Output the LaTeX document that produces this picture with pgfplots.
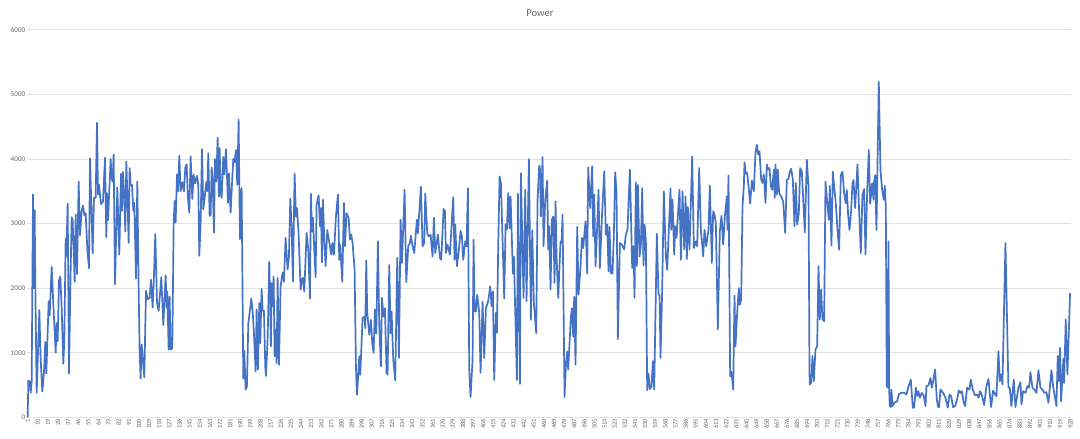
\documentclass[border=0pt]{standalone}
\usepackage{pgfplots}
\usepackage{pgfplotstable}
\usepackage{fontspec}
\setmainfont{Carlito}
\pgfplotsset{compat=1.18}
\definecolor{linecol}{HTML}{4472C4}
\definecolor{gridcol}{HTML}{E2E2E2}
\definecolor{txtcol}{HTML}{6A6A6A}
\pgfplotstableread{
p v
83 0
85 570
90 550
92 380
95 560
99 3450
101 2000
104 3210
106 2000
110 380
118 1660
122 900
127 400
132 700
136 1170
139 680
146 1800
149 1580
155 2330
160 1750
167 1000
170 1460
173 1180
177 2120
181 2180
185 1700
190 830
193 1200
197 2770
199 2500
203 3310
207 680
211 2000
215 3100
218 3050
224 2100
227 3140
231 2220
236 3650
240 2820
245 3200
249 3280
253 3130
257 3160
262 2600
267 2310
270 4010
274 3300
278 2540
282 3400
287 3400
291 4560
294 3450
297 3600
303 3300
309 3340
315 4020
319 2790
321 3470
324 3050
332 4000
335 3700
338 3650
341 4070
345 2060
352 3560
358 2520
363 3770
366 3200
369 3800
373 3400
376 2880
379 3960
383 3300
386 2700
389 3860
392 3600
396 3600
400 3200
403 3320
405 2850
408 2150
412 3650
416 2000
419 1000
422 600
425 1130
430 800
433 620
438 1960
443 1830
449 1850
453 2130
458 1700
462 2200
466 2840
471 1780
476 1650
484 2170
490 1430
497 2200
500 1700
502 1950
506 1050
509 1870
512 1050
517 1070
521 3000
524 3350
527 3020
531 3760
534 3500
538 4050
542 3500
547 3640
552 3500
556 3870
560 3920
564 3380
568 3170
572 4040
577 3380
581 3760
585 3620
591 3740
595 3600
598 2500
602 3000
606 4150
610 3220
614 3400
619 3640
622 3500
625 4090
629 3120
632 3130
635 3870
638 3700
642 2860
645 4000
649 3650
653 4330
657 3420
659 4170
662 3500
665 3400
670 4030
673 3760
678 4150
681 3750
684 3320
687 3780
692 3170
696 3600
700 4000
704 3950
708 4140
712 3600
716 4610
720 2760
725 3550
730 600
733 1030
737 430
741 480
745 1450
750 1660
754 1840
758 1650
762 1300
767 710
770 1670
774 740
778 1770
781 1150
785 1990
788 1650
792 1650
796 780
798 640
803 1200
808 2410
}\blockA
\pgfplotstableread{
p v
-2 2410
3 1100
5 2080
8 1720
11 2180
14 945
17 1360
20 840
23 2160
27 815
32 2030
38 2245
42 2100
47 2780
53 2290
57 2490
61 3390
65 2960
69 2105
74 3775
78 3110
81 3240
86 2850
92 1980
96 2130
99 2160
103 1950
110 2855
115 2600
120 1840
123 3460
126 2880
129 3090
133 2600
137 2170
140 3290
146 3440
150 2960
153 3240
156 2400
159 3370
163 2750
167 2340
172 2900
180 2650
184 2520
187 2700
192 2520
198 3110
204 3450
208 2440
211 2670
217 2100
222 3320
225 2650
230 3160
236 3090
240 2750
244 2830
248 2700
254 2290
258 790
261 350
264 580
268 945
271 660
278 1540
284 1560
286 1380
289 2430
292 1620
298 1280
303 1510
307 1150
311 1000
315 1670
319 1300
324 2725
328 1410
333 790
336 1850
341 1560
345 1690
350 690
353 660
358 2360
362 1300
365 1640
370 890
376 570
382 2470
387 920
392 3060
396 2390
404 3525
409 2090
415 2650
420 2700
423 2810
428 2650
433 2545
441 3060
444 2850
453 3570
458 2650
463 2700
466 3465
472 2850
476 2800
482 2830
488 2490
492 3090
496 2545
504 2830
510 2470
514 2440
521 3225
525 3190
528 2545
533 2675
540 2520
550 3410
554 2440
556 2985
561 2340
566 2545
572 2890
576 2800
580 2440
586 2725
590 2650
594 3550
598 740
602 315
608 890
611 2750
614 1640
618 1640
622 1900
628 1620
632 690
638 1790
643 920
648 1690
655 1800
661 2030
665 1720
669 1950
673 580
678 1620
681 1310
685 2650
689 3730
693 3630
698 2750
703 1840
707 2985
711 2910
715 3475
719 2930
722 3420
729 2225
732 2490
741 580
744 3465
750 520
753 3780
761 1850
766 3525
770 1800
777 4000
783 1510
787 2895
792 1770
799 1305
803 3370
808 3900
}\blockB
\pgfplotstableread{
p v
-2 3900
0 3860
3 3110
8 4030
11 2650
16 3370
22 3665
25 2600
28 2960
32 1980
36 3060
40 3110
44 2080
47 3345
50 2490
55 1850
62 2725
65 2700
68 3140
74 315
78 790
82 1020
85 740
93 1560
96 1690
100 1250
103 1870
107 815
112 2950
116 1900
122 2340
126 2780
130 2620
137 3035
142 2225
145 3870
151 3240
157 3890
160 2800
163 3450
167 2340
172 2960
176 3525
180 2310
186 3090
193 3810
198 2830
202 2985
206 2260
209 2950
213 2235
218 2225
222 2830
226 3795
230 3475
234 1210
240 2700
246 2675
253 2600
258 2830
263 2905
270 3835
277 2310
281 2650
284 1850
288 3640
291 2340
294 3600
299 2490
303 2650
307 3550
311 2350
314 2985
318 2750
322 420
326 675
330 440
335 480
339 870
343 430
351 2845
356 1900
359 1900
362 920
367 1980
372 3500
378 2490
382 2285
392 3545
394 2905
398 3370
403 2520
406 2960
410 2780
419 3525
423 2440
428 3500
433 2600
437 3420
441 2450
444 3260
449 2600
457 4040
462 2620
468 2725
472 2650
478 3860
483 2905
490 2490
494 2905
499 2650
506 2905
510 3590
516 2390
520 3190
524 3140
528 3010
534 1360
540 2880
545 3120
550 2675
555 3110
561 3420
563 2905
566 3745
571 635
574 710
577 600
580 430
584 1885
587 1100
592 1615
597 2000
600 1745
604 1820
608 3270
612 3580
614 3950
618 3775
622 3785
627 3525
631 3310
636 3665
642 3500
647 4095
651 4220
655 4070
659 4120
664 3680
668 3630
672 3760
677 3320
681 3915
685 3835
689 3860
693 3580
697 3525
702 3835
705 3400
707 3915
711 3450
714 3835
718 3475
724 3420
730 3345
736 2855
741 3680
746 3690
749 3785
754 3850
759 3680
764 2960
768 3630
772 2985
777 3165
781 3860
786 3810
795 2865
801 3990
806 3580
809 690
}\blockC
\pgfplotstableread{
p v
-1 690
0 510
4 535
8 950
12 560
17 1050
22 1100
26 2340
30 1515
34 1980
38 1515
43 1490
47 3650
52 3340
57 3060
60 3585
65 2660
69 3805
73 3575
78 3315
83 2900
88 2595
93 3750
98 3805
103 3470
108 3315
111 3520
115 3135
119 2900
124 3210
128 3625
131 3675
136 3240
143 3920
147 3315
153 2540
158 3445
163 3535
167 2520
172 3470
177 4140
181 3305
187 3625
191 3370
193 3650
196 3750
200 2900
207 5195
212 3830
217 3520
222 3370
225 3585
228 3265
231 485
234 460
236 2725
238 430
240 175
243 160
245 430
248 175
253 225
262 250
268 365
275 380
283 380
290 355
295 460
303 585
309 150
313 150
318 460
322 330
326 405
330 305
336 380
342 330
347 175
350 485
356 495
362 610
366 460
370 560
376 740
381 280
385 160
388 160
392 430
400 380
407 305
414 150
419 355
424 330
430 160
436 175
442 280
447 415
452 380
456 405
462 225
466 175
472 460
479 430
483 585
489 430
495 345
501 355
506 305
511 405
517 330
523 190
530 485
536 595
544 160
550 415
556 355
560 330
566 1025
570 560
574 665
578 510
587 2700
596 460
600 460
605 175
612 585
617 160
626 460
632 545
635 200
640 405
647 380
653 485
658 460
662 700
668 460
674 430
680 380
686 730
692 460
698 430
704 380
710 390
716 225
725 730
730 485
740 175
744 950
747 560
751 1075
754 250
761 910
763 535
768 1515
773 665
781 1925
}\blockD
\begin{document}
\begin{tikzpicture}[x=1pt,y=1pt]
\path[use as bounding box] (0,0) rectangle (1080,439);
\node[text=txtcol,font=\fontsize{10.5}{12}\selectfont,anchor=center] at (540,426) {Power};
\begin{axis}[
  at={(27pt,21.6pt)},anchor=south west,
  scale only axis,width=1044pt,height=387.6pt,
  xmin=0.4,xmax=928.6,ymin=0,ymax=6000,
  clip=false,
  axis line style={draw=none},
  major tick length=0pt,
  ytick={0,1000,2000,3000,4000,5000,6000},
  xtick={1,10,...,928},
  xticklabel style={rotate=90,anchor=east,font=\fontsize{6.5}{7}\selectfont,text=txtcol},
  yticklabel style={font=\fontsize{7.2}{8}\selectfont,text=txtcol,/pgf/number format/assume math mode=true},
  /pgf/number format/1000 sep={},
  xticklabel={\pgfmathprintnumber[fixed,assume math mode=true,1000 sep={}]{\tick}},
  tick label style={inner sep=1.5pt},
  ymajorgrids,
  major grid style={draw=gridcol,line width=0.7pt},
]
\addplot[draw=linecol,line width=1.7pt,line join=round,no markers] table[x expr={1+(\thisrowno{0}-83)/3.375},y index=1] {\blockA};
\addplot[draw=linecol,line width=1.7pt,line join=round,no markers] table[x expr={1+(\thisrowno{0}+810-83)/3.375},y index=1] {\blockB};
\addplot[draw=linecol,line width=1.7pt,line join=round,no markers] table[x expr={1+(\thisrowno{0}+1620-83)/3.375},y index=1] {\blockC};
\addplot[draw=linecol,line width=1.7pt,line join=round,no markers] table[x expr={1+(\thisrowno{0}+2430-83)/3.375},y index=1] {\blockD};
\end{axis}
\end{tikzpicture}
\end{document}
